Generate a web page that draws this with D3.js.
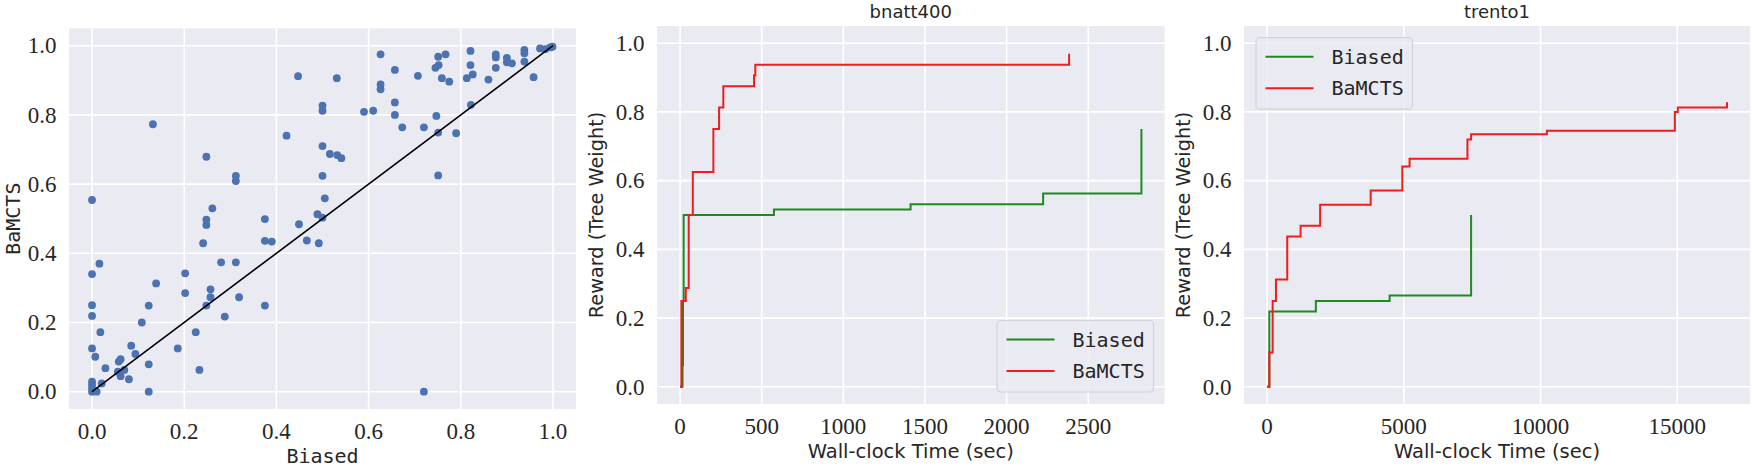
<!DOCTYPE html>
<html><head><meta charset="utf-8">
<script src="https://cdn.jsdelivr.net/npm/d3@7"></script>
<style>
html,body{margin:0;padding:0;background:#fff;}
svg{display:block;}
</style></head>
<body>
<svg id="chart" width="1752" height="467"></svg>
<script>
// ---------- data ----------
// scatter: Biased (x) vs BaMCTS (y)
const scatterBiased = [0,0.005,0.01,0,0,0,0.021,0,0.007,0,0,0,0.016,0.018,0,0.029,0.056,0.058,0.062,0.062,0.07,0.08,0.085,0.094,0.108,0.123,0.123,0.123,0.132,0.139,0.186,0.202,0.202,0.225,0.233,0.241,0.248,0.257,0.257,0.248,0.28,0.288,0.312,0.319,0.312,0.312,0.261,0.248,0.248,0.375,0.375,0.39,0.375,0.422,0.447,0.449,0.466,0.492,0.489,0.5,0.505,0.5,0.5,0.516,0.532,0.541,0.5,0.5,0.531,0.59,0.61,0.626,0.626,0.626,0.657,0.657,0.657,0.673,0.707,0.72,0.72,0.745,0.752,0.751,0.767,0.759,0.775,0.747,0.751,0.79,0.751,0.821,0.821,0.813,0.826,0.822,0.86,0.876,0.876,0.876,0.9,0.9,0.911,0.938,0.938,0.938,0.958,0.972,0.983,0.994,0.999];
const scatterBaMCTS = [0,0.002,0,0.01,0.02,0.029,0.024,0.125,0.101,0.219,0.25,0.34,0.37,0.172,0.554,0.068,0.058,0.087,0.094,0.045,0.063,0.036,0.133,0.109,0.2,0.079,0,0.249,0.773,0.313,0.125,0.342,0.285,0.172,0.063,0.429,0.249,0.296,0.273,0.679,0.374,0.217,0.374,0.273,0.624,0.609,0.53,0.497,0.482,0.249,0.436,0.434,0.499,0.74,0.912,0.484,0.437,0.429,0.513,0.503,0.559,0.624,0.71,0.687,0.684,0.675,0.827,0.812,0.906,0.809,0.812,0.975,0.888,0.874,0.93,0.836,0.8,0.764,0.913,0.764,0,0.936,0.944,0.968,0.975,0.906,0.896,0.797,0.749,0.747,0.625,0.985,0.944,0.906,0.917,0.829,0.902,0.975,0.966,0.936,0.965,0.952,0.949,0.988,0.978,0.954,0.909,0.992,0.99,0.995,0.997];

// bnatt400 step curves
const bnattBiasedT = [0, 15, 18, 22, 575, 1412, 2224, 2826];
const bnattBiasedV = [0, 0.0625, 0.25, 0.5, 0.516, 0.531, 0.5625, 0.75];
const bnattBamctsT = [0, 8, 35, 53, 78, 204, 239, 265, 453, 461, 2383];
const bnattBamctsV = [0, 0.25, 0.2875, 0.5, 0.625, 0.75, 0.8125, 0.875, 0.906, 0.9375, 0.969];

// trento1 step curves
const trentoBiasedT = [0, 85, 1786, 4484, 7462];
const trentoBiasedV = [0, 0.219, 0.25, 0.266, 0.5];
const trentoBamctsT = [0, 85, 207, 328, 740, 1228, 1943, 3791, 4947, 5213, 7328, 7462, 10233, 14911, 15020, 16818];
const trentoBamctsV = [0, 0.1, 0.25, 0.3125, 0.4375, 0.469, 0.53, 0.571, 0.641, 0.664, 0.72, 0.735, 0.745, 0.80, 0.8125, 0.828];

const rewardTicks = [0, 0.2, 0.4, 0.6, 0.8, 1.0];
const scatterXTicks = [0, 0.2, 0.4, 0.6, 0.8, 1.0];
const bnattTimeTicks = [0, 500, 1000, 1500, 2000, 2500];
const trentoTimeTicks = [0, 5000, 10000, 15000];
const seriesNames = ["Biased", "BaMCTS"];
const seriesColors = ["#1f8a1f", "#f21c1c"];
const titles = ["bnatt400", "trento1"];

// ---------- drawing ----------
const svg = d3.select("#chart");
const BG = "#eaeaf2";
const SERIF = "Liberation Serif";
const SANS = "DejaVu Sans";
const MONO = "DejaVu Sans Mono";

function txt(parent, family, size) {
  return parent.append("text").style("font-family", family).style("font-size", size + "px").attr("fill", "#262626");
}

function panel(rect, x, y, xticks, yticks, xfmt) {
  const g = svg.append("g");
  g.append("rect").attr("x", rect.l).attr("y", rect.t)
    .attr("width", rect.r - rect.l).attr("height", rect.b - rect.t).attr("fill", BG);
  const grid = g.append("g").attr("stroke", "#fff").attr("stroke-width", 1.6);
  xticks.forEach(t => grid.append("line").attr("x1", x(t)).attr("x2", x(t)).attr("y1", rect.t).attr("y2", rect.b));
  yticks.forEach(t => grid.append("line").attr("y1", y(t)).attr("y2", y(t)).attr("x1", rect.l).attr("x2", rect.r));
  xticks.forEach(t => txt(svg, SERIF, 23).attr("x", x(t)).attr("y", rect.b + 29.5)
    .attr("text-anchor", "middle").text(xfmt(t)));
  yticks.forEach(t => txt(svg, SERIF, 23).attr("x", rect.l - 12.5).attr("y", y(t) + 7.7)
    .attr("text-anchor", "end").text(d3.format(".1f")(t)));
  return g;
}

// ----- scatter panel -----
{
  const rect = {l: 69, r: 576, t: 28.4, b: 409};
  const x = d3.scaleLinear().domain([-0.05, 1.05]).range([rect.l, rect.r]);
  const y = d3.scaleLinear().domain([-0.05, 1.05]).range([rect.b, rect.t]);
  const g = panel(rect, x, y, scatterXTicks, rewardTicks, d3.format(".1f"));
  const pts = scatterBiased.map((b, i) => ({b, m: scatterBaMCTS[i]}));
  g.append("g").selectAll("circle").data(pts).join("circle")
    .attr("cx", d => x(d.b)).attr("cy", d => y(d.m)).attr("r", 3.9)
    .attr("fill", "#4c72b0");
  g.append("line").attr("x1", x(0)).attr("y1", y(0)).attr("x2", x(1)).attr("y2", y(1))
    .attr("stroke", "#000").attr("stroke-width", 1.6);
  txt(svg, MONO, 20).attr("x", (rect.l + rect.r) / 2).attr("y", 463)
    .attr("text-anchor", "middle").text("Biased");
  txt(svg, MONO, 20).attr("transform", `translate(20,${(rect.t + rect.b) / 2}) rotate(-90)`)
    .attr("text-anchor", "middle").text("BaMCTS");
}

function stepPanel(rect, tB, vB, tM, vM, xticks, title, legendPos) {
  const tmax = d3.max(tB.concat(tM));
  const pad = tmax * 0.05;
  const x = d3.scaleLinear().domain([-pad, tmax + pad]).range([rect.l, rect.r]);
  const y = d3.scaleLinear().domain([-0.05, 1.05]).range([rect.b, rect.t]);
  const g = panel(rect, x, y, xticks, rewardTicks, d3.format("d"));
  const line = d3.line().x(d => x(d[0])).y(d => y(d[1])).curve(d3.curveStepAfter);
  const series = [tB.map((t, i) => [t, vB[i]]), tM.map((t, i) => [t, vM[i]])];
  series.forEach((s, i) => g.append("path").attr("d", line(s)).attr("fill", "none")
    .attr("stroke", seriesColors[i]).attr("stroke-width", 2));
  txt(svg, SANS, 18).attr("x", (rect.l + rect.r) / 2).attr("y", 18)
    .attr("text-anchor", "middle").text(title);
  txt(svg, SANS, 19.5).attr("x", (rect.l + rect.r) / 2).attr("y", 457.5)
    .attr("text-anchor", "middle").text("Wall-clock Time (sec)");
  txt(svg, SANS, 19.3).attr("transform", `translate(${rect.l - 54.3},${(rect.t + rect.b) / 2}) rotate(-90)`)
    .attr("text-anchor", "middle").text("Reward (Tree Weight)");
  // legend
  const lw = 156.5, lh = 71.5;
  const lx = legendPos === "lr" ? rect.r - 11 - lw : rect.l + 12;
  const ly = legendPos === "lr" ? rect.b - 12 - lh : rect.t + 11.7;
  const lg = svg.append("g");
  lg.append("rect").attr("x", lx).attr("y", ly).attr("width", lw).attr("height", lh)
    .attr("rx", 4).attr("fill", BG).attr("fill-opacity", 0.8).attr("stroke", "#d2d2da").attr("stroke-width", 1.2);
  seriesNames.forEach((n, i) => {
    const ry = ly + 19 + i * 31.5;
    lg.append("line").attr("x1", lx + 9.5).attr("x2", lx + 57.5).attr("y1", ry).attr("y2", ry)
      .attr("stroke", seriesColors[i]).attr("stroke-width", 2);
    txt(lg, MONO, 20).attr("x", lx + 75.5).attr("y", ry + 7).text(n);
  });
}

stepPanel({l: 657, r: 1164.5, t: 26, b: 404}, bnattBiasedT, bnattBiasedV, bnattBamctsT, bnattBamctsV,
  bnattTimeTicks, titles[0], "lr");
stepPanel({l: 1244, r: 1750, t: 26, b: 404}, trentoBiasedT, trentoBiasedV, trentoBamctsT, trentoBamctsV,
  trentoTimeTicks, titles[1], "ul");
</script>
</body></html>
